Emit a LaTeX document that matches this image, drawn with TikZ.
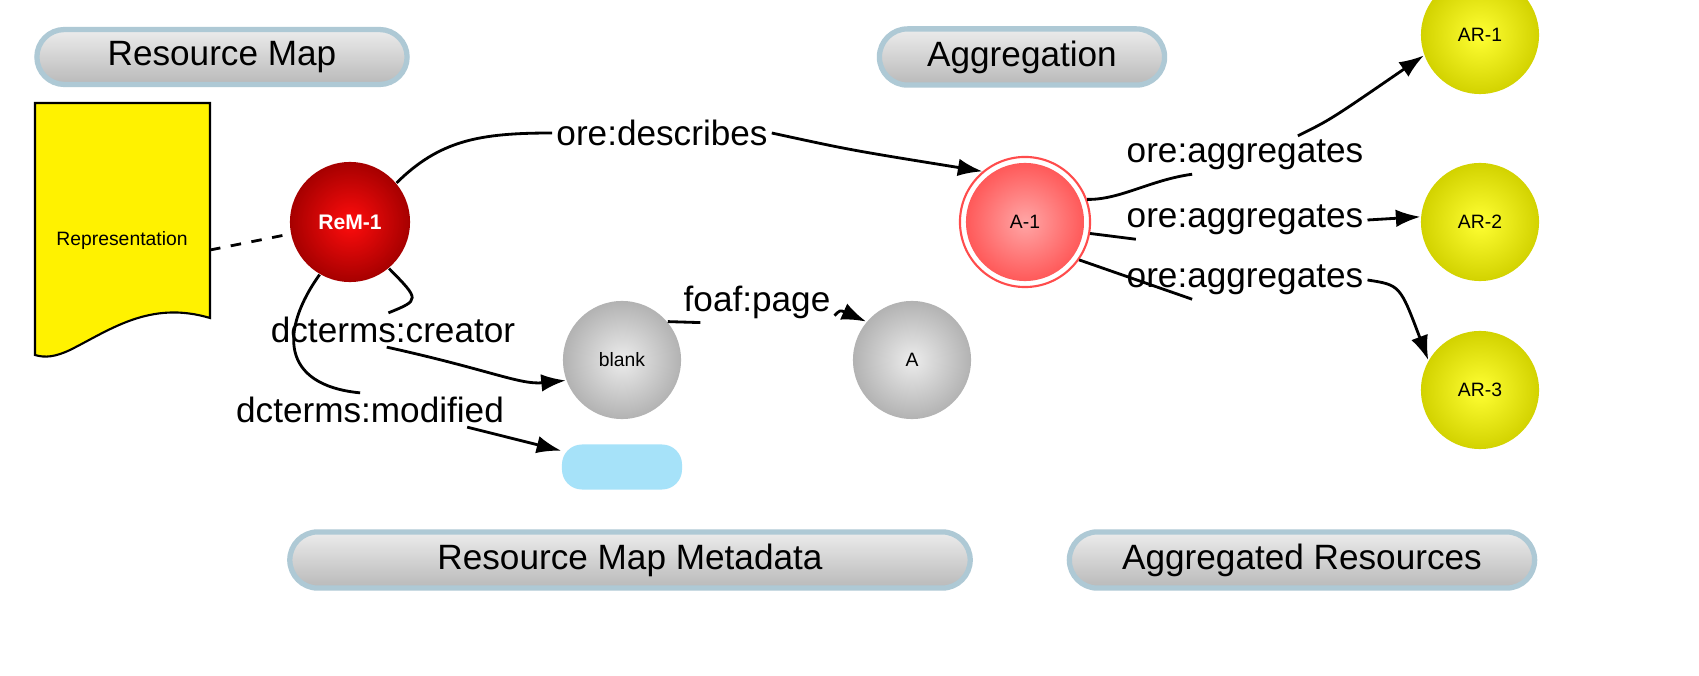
\documentclass[tikz,border=0pt]{standalone}
\usepackage{fontspec}
\setmainfont{Liberation Sans}
\usetikzlibrary{arrows.meta,shapes.misc}
\begin{document}
\begin{tikzpicture}[x=0.01cm,y=-0.01cm,
  pill/.style={rounded rectangle,draw=cyan!35!gray!55,line width=1.5pt,top color=gray!15,bottom color=gray!55,minimum height=0.44cm,font=\fontsize{10}{12}\selectfont,inner xsep=0pt},
  ball/.style={circle,minimum size=#1,inner sep=0pt,font=\fontsize{5.5}{6}\selectfont,draw=none},
  lbl/.style={font=\fontsize{10}{12}\selectfont,inner sep=1pt},
  con/.style={line width=0.8pt},
  arr/.style={con,-{Latex[length=7pt,width=5pt]}}]
\useasboundingbox (0,0) rectangle (1699,676);
\fill[white] (0,0) rectangle (1699,676);
% pills
\node[pill,minimum width=3.7cm] (p1) at (222,57) {Resource Map};
\node[pill,minimum width=2.85cm] (p2) at (1022,57) {Aggregation};
\node[pill,minimum width=6.8cm] (p3) at (630,560) {Resource Map Metadata};
\node[pill,minimum width=4.65cm] (p4) at (1302,560) {Aggregated Resources};
% representation
\draw[fill=yellow,line width=0.6pt] (35,103) -- (210,103) -- (210,318)
  .. controls (150,300) and (110,330) .. (70,350) .. controls (55,357) and (45,358) .. (35,355) -- cycle;
\node[font=\fontsize{5.5}{6}\selectfont] (rep) at (122,240) {Representation};
\coordinate (repE) at (210,250);
% balls
\node[ball=1.2cm,inner color=red!95!white,outer color=red!65!black,text=white,font=\fontsize{6}{7}\selectfont\bfseries] (rem) at (350,222) {ReM-1};
\node[circle,minimum size=1.3cm,draw=red!70,fill=white,line width=0.6pt] (a1o) at (1025,222) {};
\node[ball=1.18cm,inner color=red!35,outer color=red!65] (a1) at (1025,222) {A-1};
\node[ball=1.18cm,inner color=gray!15,outer color=gray!60] (blank) at (622,360) {blank};
\node[ball=1.18cm,inner color=gray!15,outer color=gray!60] (a) at (912,360) {A};
\node[ball=1.18cm,inner color=yellow!80!white,outer color=yellow!65!olive] (ar1) at (1480,35) {AR-1};
\node[ball=1.18cm,inner color=yellow!80!white,outer color=yellow!65!olive] (ar2) at (1480,222) {AR-2};
\node[ball=1.18cm,inner color=yellow!80!white,outer color=yellow!65!olive] (ar3) at (1480,390) {AR-3};
\node[fill=cyan!35,rounded corners=0.2cm,minimum width=1.2cm,minimum height=0.45cm] (lit) at (622,467) {};
% labels
\node[lbl] (desc) at (662,133) {ore:describes};
\node[lbl] (ag1) at (1245,155) {ore:aggregates};
\node[lbl] (ag2) at (1245,220) {ore:aggregates};
\node[lbl] (ag3) at (1245,280) {ore:aggregates};
\node[lbl] (cre) at (393,330) {dcterms:creator};
\node[lbl] (foaf) at (757,302) {foaf:page};
\node[lbl] (mod) at (370,410) {dcterms:modified};
% connectors
\draw[con,dashed] (repE) -- (rem);
\draw[con] (rem.40) .. controls (440,140) and (480,133) .. (desc.west);
\draw[arr] (desc.east) .. controls (850,150) .. (a1o.130);
\draw[con] (a1o.20) .. controls (1120,200) and (1150,180) .. (ag1.200);
\draw[arr] (ag1.20) .. controls (1330,120) .. (ar1.200);
\draw[con] (a1o.-10) -- (ag2.190);
\draw[arr] (ag2.east) -- (ar2.175);
\draw[con] (a1o.-35) -- (ag3.200);
\draw[arr] (ag3.east) .. controls (1400,285) .. (ar3.150);
\draw[con] (rem.-50) .. controls (420,300) .. (cre.105);
\draw[arr] (cre.250) .. controls (490,370) and (520,385) .. (blank.200);
\draw[con] (blank.40) -- (foaf.200);
\draw[arr] (foaf.-10) .. controls (840,310) .. (a.140);
\draw[con] (rem.-120) .. controls (280,330) and (280,385) .. (mod.120);
\draw[arr] (mod.-10) -- (lit.165);
\end{tikzpicture}
\end{document}
